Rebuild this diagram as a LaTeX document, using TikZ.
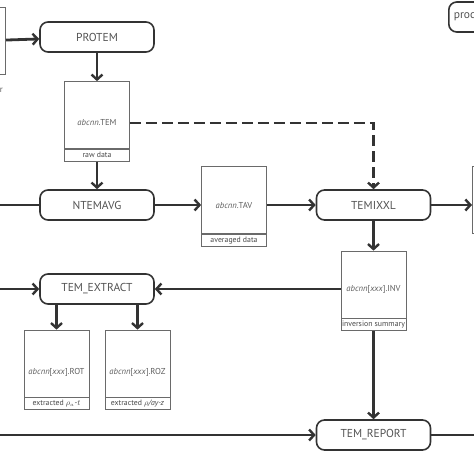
\documentclass[tikz,border=0pt]{standalone}
\usepackage{fontspec}
\setmainfont{PT Sans}
\usetikzlibrary{arrows.meta}
\definecolor{ink}{HTML}{333333}
\definecolor{boxline}{HTML}{6A6A6A}

\begin{document}
\begin{tikzpicture}
  [x=1pt,y=-1pt,
   prog/.style={draw=ink,line width=1.6pt,rounded corners=8pt,minimum width=114pt,minimum height=30pt,font=\fontsize{11.5}{13}\selectfont,text=ink!85},
   filebox/.style={draw=boxline,line width=0.7pt,minimum width=65pt,minimum height=67pt,inner sep=0pt},
   filetext/.style={font=\fontsize{8.6}{10}\selectfont,text=ink!80,inner sep=1pt},
   filecap/.style={draw=boxline,line width=0.7pt,minimum width=65pt,minimum height=12pt,inner sep=0pt,anchor=north,font=\fontsize{7.8}{9}\selectfont,text=ink!90},
   wire/.style={draw=ink,line width=2.8pt},
   flow/.style={wire,-{Straight Barb[length=5pt,width=11pt,line width=2.4pt]}},
   dashflow/.style={flow,dash pattern=on 11pt off 5pt}]
  \useasboundingbox (0,0) rectangle (474,474);
  \clip (0,0) rectangle (474,474);

  % cut-off boxes at the edges
  \node[filebox,anchor=south east] (srcbox) at (6,75) {};
  \node[filetext,anchor=east] (srclbl) at (4,90) {folder};
  \node[filebox,anchor=north west] (outbox) at (472,166) {};
  \node[prog,anchor=west,minimum width=80pt,text width=70pt,align=left] (legend) at (448,17) {processes};

  % programs
  \node[prog] (protem) at (97,37) {PROTEM};
  \node[prog] (ntemavg) at (97,205) {NTEMAVG};
  \node[prog] (temixxl) at (373.5,205) {TEMIXXL};
  \node[prog] (extract) at (97,289) {TEM\_EXTRACT};
  \node[prog] (report) at (373.5,435) {TEM\_REPORT};

  % files
  \node[filebox] (tem) at (97,115) {};
  \node[filetext] (temtxt) at (97,123) {\textit{abcnn}.TEM};
  \node[filecap] (temcap) at (tem.south) {raw data};

  \node[filebox] (tav) at (234,200) {};
  \node[filetext] (tavtxt) at (234,205) {\textit{abcnn}.TAV};
  \node[filecap] (tavcap) at (tav.south) {averaged data};

  \node[filebox] (inv) at (373.5,284.5) {};
  \node[filetext] (invtxt) at (373.5,289) {\textit{abcnn}[\textit{xxx}].INV};
  \node[filecap] (invcap) at (inv.south) {inversion summary};

  \node[filebox] (rot) at (56.5,363.5) {};
  \node[filetext] (rottxt) at (56.5,372) {\textit{abcnn}[\textit{xxx}].ROT};
  \node[filecap] (rotcap) at (rot.south) {extracted $\rho_a$-$t$};

  \node[filebox] (roz) at (137.5,363.5) {};
  \node[filetext] (roztxt) at (137.5,372) {\textit{abcnn}[\textit{xxx}].ROZ};
  \node[filecap] (rozcap) at (roz.south) {extracted $\rho$\textit{/ay-z}};

  % loose ends
  \coordinate (inavg) at (0,205);
  \coordinate (inext) at (0,289);
  \coordinate (inrep) at (0,435);
  \coordinate (outrep) at (474,435);

  \foreach \from/\to in {srcbox/protem,protem/tem,temcap/ntemavg,temixxl/inv,invcap/report,inext/extract,inrep/report}
    \draw[flow] (\from) -- (\to);
  \draw[flow] (ntemavg) -- (tav.west |- ntemavg);
  \draw[flow] (tav.east |- temixxl) -- (temixxl);
  \draw[flow] (temixxl) -- (outbox.west |- temixxl);
  \draw[flow] (inv.west |- extract) -- (extract);
  \draw[flow] (rot |- extract.south) -- (rot);
  \draw[flow] (roz |- extract.south) -- (roz);
  \draw[wire] (inavg) -- (ntemavg);
  \draw[wire] (report) -- (outrep);
  \draw[dashflow] (tem.east |- temtxt) -| (temixxl);

\end{tikzpicture}
\end{document}
